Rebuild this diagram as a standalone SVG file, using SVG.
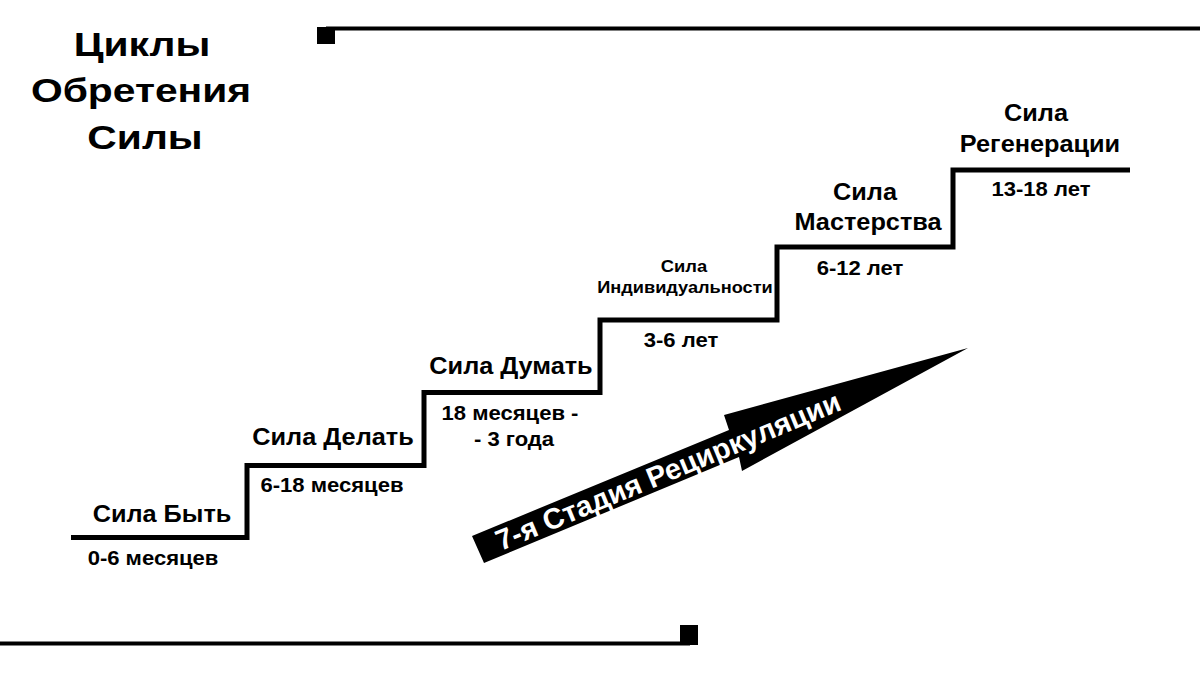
<svg xmlns="http://www.w3.org/2000/svg" width="1200" height="675" viewBox="0 0 1200 675">
<style>
.t{font-family:"Liberation Sans",Arial,sans-serif;font-weight:bold;fill:#000;text-anchor:middle}
.m{font-size:23px}
.d{font-size:21px}
.s{font-size:17px}
.h{font-size:34px}
.w{font-family:"Liberation Sans",Arial,sans-serif;font-weight:bold;fill:#fff;text-anchor:middle;font-size:29px}
.ln{fill:none;stroke:#000;stroke-width:5}
.fr{fill:none;stroke:#000;stroke-width:4}
</style>
<rect width="1200" height="675" fill="#fff"/>
<g id="frame">
<path class="fr" d="M326,28.5 H1200"/>
<rect x="317" y="27" width="18" height="17" fill="#000"/>
<path class="fr" d="M0,643.5 H690"/>
<rect x="680" y="625" width="18" height="20" fill="#000"/>
</g>
<g id="title">
<text class="t h" transform="translate(142 56) scale(1.2 1)">Циклы</text>
<text class="t h" transform="translate(141 102) scale(1.2 1)">Обретения</text>
<text class="t h" transform="translate(145 149) scale(1.2 1)">Силы</text>
</g>
<g id="connectors">
<path class="ln" d="M71,537.5 H247 V465.5 H424 V392.5 H600 V320 H777 V247 H953 V170 H1130"/>
</g>
<g id="step1">
<text class="t m" transform="translate(162 522) scale(1.1 1)">Сила Быть</text>
<text class="t d" transform="translate(153 565) scale(1.05 1)">0-6 месяцев</text>
</g>
<g id="step2">
<text class="t m" transform="translate(333 445) scale(1.1 1)">Сила Делать</text>
<text class="t d" transform="translate(332 492) scale(1.05 1)">6-18 месяцев</text>
</g>
<g id="step3">
<text class="t m" transform="translate(511 374) scale(1.1 1)">Сила Думать</text>
<text class="t d" transform="translate(510 420) scale(1.05 1)">18 месяцев -</text>
<text class="t d" transform="translate(514 446) scale(1.05 1)">- 3 года</text>
</g>
<g id="step4">
<text class="t s" transform="translate(684 272) scale(1.08 1)">Сила</text>
<text class="t s" transform="translate(685 293) scale(1.07 1)">Индивидуальности</text>
<text class="t d" transform="translate(681 347) scale(1.05 1)">3-6 лет</text>
</g>
<g id="step5">
<text class="t m" transform="translate(865 200) scale(1.1 1)">Сила</text>
<text class="t m" transform="translate(868 230) scale(1.1 1)">Мастерства</text>
<text class="t d" transform="translate(860 275) scale(1.05 1)">6-12 лет</text>
</g>
<g id="step6">
<text class="t m" transform="translate(1036 121) scale(1.1 1)">Сила</text>
<text class="t m" transform="translate(1040 152) scale(1.1 1)">Регенерации</text>
<text class="t d" transform="translate(1041 196) scale(1.05 1)">13-18 лет</text>
</g>
<g id="arrow">
<polygon points="472,536 729,430 724,415 968,348 742,471 739,457 484,563" fill="#000"/>
<text class="w" transform="translate(668 471) rotate(-22.5)" y="10">7-я Стадия Рециркуляции</text>
</g>
</svg>
